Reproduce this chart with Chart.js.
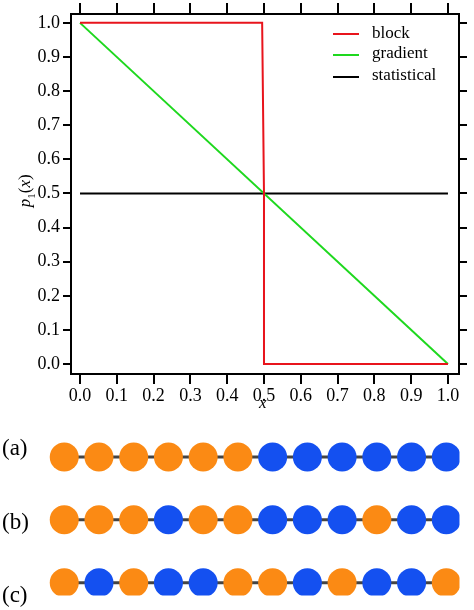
<!DOCTYPE html>
<html><head><meta charset="utf-8">
<script src="https://cdn.jsdelivr.net/npm/chart.js@4"></script>
<style>
body{margin:0;width:474px;height:610px;position:relative;background:#fff;font-family:"Liberation Serif",serif;overflow:hidden}
#c1{position:absolute;left:0;top:0}
#c2{position:absolute;left:0;top:410px}
.t{position:absolute;font-size:23px;color:#000}
.lg{position:absolute;font-size:17px;left:372px}
.ll{position:absolute;left:333px;width:26px;height:2px}
</style></head><body>
<canvas id="c1" width="474" height="410"></canvas>
<canvas id="c2" width="474" height="200"></canvas>
<div class="t" style="left:259px;top:393px;font-size:17px;font-style:italic">x</div>
<div class="t" style="left:6px;top:180px;font-size:17px;transform:rotate(-90deg);transform-origin:center;width:40px;text-align:center"><i>p</i><sub style="font-size:11px">1</sub>(<i>x</i>)</div>
<div class="ll" style="top:33px;background:#e8141c"></div><div class="lg" style="top:23px">block</div>
<div class="ll" style="top:54px;background:#1ed81e"></div><div class="lg" style="top:43px">gradient</div>
<div class="ll" style="top:76px;background:#000"></div><div class="lg" style="top:65px">statistical</div>
<div class="t" style="left:2px;top:435px">(a)</div>
<div class="t" style="left:2px;top:509px">(b)</div>
<div class="t" style="left:2px;top:582px">(c)</div>
<script>
const blockX=[0,0.495,0.5,0.5,1], blockY=[1,1,0.5,0,0];
const gradX=[0,1], gradY=[1,0];
const statX=[0,1], statY=[0.5,0.5];
const xTicks=[0,0.1,0.2,0.3,0.4,0.5,0.6,0.7,0.8,0.9,1.0];
const yTicks=[0,0.1,0.2,0.3,0.4,0.5,0.6,0.7,0.8,0.9,1.0];
const rowA="OOOOOOBBBBBB", rowB="OOOBOOBBBOBB", rowC="OBOBBOOBOBBO";
const pts=(xs,ys)=>xs.map((x,i)=>({x,y:ys[i]}));
const fnt={family:"Liberation Serif",size:18};
function fix(sz,prop){return a=>{a[prop]=sz;};}
const tickCb=v=>v.toFixed(1);
new Chart(document.getElementById('c1'),{type:'scatter',
data:{datasets:[
{data:pts(blockX,blockY),showLine:true,borderColor:'#e8141c',borderWidth:2,pointRadius:0,xAxisID:'x',yAxisID:'y'},
{data:pts(gradX,gradY),showLine:true,borderColor:'#1ed81e',borderWidth:2,pointRadius:0},
{data:pts(statX,statY),showLine:true,borderColor:'#000',borderWidth:2,pointRadius:0}]},
options:{responsive:false,animation:false,layout:{padding:0},
plugins:{legend:{display:false},tooltip:{enabled:false}},
scales:{
x:{type:'linear',position:'bottom',min:-0.0245,max:1.03,afterBuildTicks:a=>{a.ticks=xTicks.map(v=>({value:v}));},afterFit:fix(36,'height'),
 ticks:{font:fnt,color:'#000',callback:tickCb,padding:1},grid:{drawOnChartArea:false,tickLength:10,color:'#000',lineWidth:2},border:{color:'#000',width:2}},
x2:{type:'linear',position:'top',min:-0.0245,max:1.03,afterBuildTicks:a=>{a.ticks=xTicks.map(v=>({value:v}));},afterFit:fix(14,'height'),
 ticks:{display:false},grid:{drawOnChartArea:false,tickLength:11,color:'#000',lineWidth:2},border:{color:'#000',width:2}},
y:{type:'linear',position:'left',min:-0.029,max:1.026,afterBuildTicks:a=>{a.ticks=yTicks.map(v=>({value:v}));},afterFit:fix(71,'width'),
 ticks:{font:fnt,color:'#000',callback:tickCb,padding:3},grid:{drawOnChartArea:false,tickLength:8,color:'#000',lineWidth:2},border:{color:'#000',width:2}},
y2:{type:'linear',position:'right',min:-0.029,max:1.026,afterBuildTicks:a=>{a.ticks=yTicks.map(v=>({value:v}));},afterFit:fix(15,'width'),
 ticks:{display:false},grid:{drawOnChartArea:false,tickLength:8,color:'#000',lineWidth:2},border:{color:'#000',width:2}}
}}});
const O='#fb8a14', B='#1450f0';
const rows=[rowA,rowB,rowC];
new Chart(document.getElementById('c2'),{type:'scatter',
data:{datasets:rows.map((r,ri)=>({data:[...r].map((c,i)=>({x:i,y:ri})),showLine:true,borderColor:'#444',borderWidth:3,
 pointRadius:14.5,pointBorderWidth:0,pointBackgroundColor:[...r].map(c=>c==='O'?O:B)}))},
options:{responsive:false,animation:false,layout:{padding:0},plugins:{legend:{display:false},tooltip:{enabled:false}},
scales:{x:{display:false,min:-1.432,max:11.38},y:{display:false,reverse:true,min:-0.517,max:2.204}}}});
</script></body></html>
